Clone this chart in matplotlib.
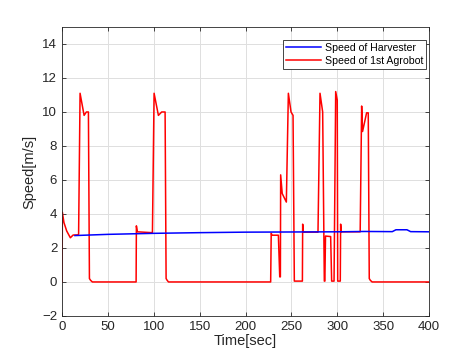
import matplotlib.pyplot as plt

plt.rcParams['font.family'] = ['Liberation Sans', 'DejaVu Sans']

# Harvester speed (blue)
t_harvester = [14, 50, 100, 150, 200, 250, 300, 330, 360, 364, 376, 380, 400]
v_harvester = [2.73, 2.80, 2.86, 2.90, 2.93, 2.94, 2.95, 2.97, 2.96, 3.07, 3.07, 2.96, 2.95]

# Agrobot speed (red)
t_agrobot = [0, 0.3, 2, 5, 9, 12, 17, 18, 19.6, 24, 26.5, 28.7, 29.8, 31, 33,
             80.7, 81, 82, 97.7, 98.5, 100.3, 105, 108.6, 112.3, 113.4, 114.5, 116,
             227.4, 228, 229, 235.8, 237.3, 238, 238.3, 240, 244.5, 246.7, 249.6, 251.8, 253.2,
             262, 262.3, 263, 278.3, 279, 281.2, 284.1, 285.9, 286.5, 287.2, 292.8, 293.9,
             296.5, 298.3, 300, 300.5, 303.3, 303.7, 304.3, 324, 325, 326.6, 327.6, 332, 333.8,
             334.9, 336, 338, 400]
v_agrobot = [0, 4.1, 3.5, 3.0, 2.6, 2.76, 2.77, 2.8, 11.1, 9.8, 10.0, 10.0, 0.2, 0.1, 0,
             0, 3.3, 2.95, 2.9, 2.9, 11.1, 9.8, 10.0, 10.0, 0.2, 0.1, 0,
             0, 2.86, 2.75, 2.75, 0.3, 0.3, 6.3, 5.2, 4.7, 11.1, 10.0, 9.8, 0.05,
             0.05, 3.4, 2.93, 2.93, 2.93, 11.1, 10.0, 0.05, 0.05, 2.7, 2.67, 0.05,
             0.05, 11.2, 10.7, 0.05, 0.05, 3.4, 2.95, 2.95, 2.95, 10.35, 8.85, 9.95, 9.95,
             0.2, 0.1, 0, 0]

fig = plt.figure(figsize=(4.74, 3.55), dpi=100)
ax = fig.add_axes([0.131, 0.110, 0.774, 0.814])

ax.plot(t_harvester, v_harvester, color='#0000ff', lw=1.1, label='Speed of Harvester', zorder=3)
ax.plot(t_agrobot, v_agrobot, color='#ff0000', lw=1.1, label='Speed of 1st Agrobot', zorder=2)

ax.set_xlim(0, 400)
ax.set_ylim(-2, 15)
ax.set_xticks(range(0, 401, 50))
ax.set_yticks(range(-2, 15, 2))
ax.grid(True, color='#dfdfdf', lw=0.7)
ax.set_axisbelow(True)
ax.tick_params(direction='in', top=True, right=True, labelsize=9.5, colors='#262626',
               length=3, width=0.6)
for s in ax.spines.values():
    s.set_color('#262626')
    s.set_linewidth(0.6)

ax.set_xlabel('Time[sec]', fontsize=10.5, color='#262626', labelpad=1)
ax.set_ylabel('Speed[m/s]', fontsize=10.5, color='#262626', labelpad=4)

leg = ax.legend(loc='upper right', bbox_to_anchor=(0.993, 0.955), fontsize=7.6,
                fancybox=False, framealpha=1, edgecolor='#262626', borderpad=0.3,
                handlelength=3.3, labelspacing=0.25, handletextpad=0.35, borderaxespad=0)
leg.get_frame().set_linewidth(0.6)

fig.savefig('out.png', dpi=100)
